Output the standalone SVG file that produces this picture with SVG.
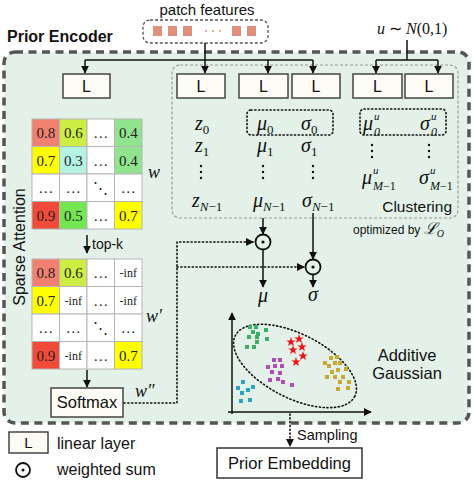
<svg xmlns="http://www.w3.org/2000/svg" width="474" height="480" viewBox="0 0 474 480">
<style>
.sans{font-family:"Liberation Sans",Arial,sans-serif;fill:#111}
.math{font-family:"Liberation Serif","Times New Roman",serif;font-style:italic;fill:#111}
.num{font-family:"Liberation Serif","Times New Roman",serif;font-size:15px;fill:#222;text-anchor:middle}
.inf{font-size:12px}
.lbox{fill:#fdfbf6;stroke:#444;stroke-width:1.5}
.cell{stroke:#b5b5b5;stroke-width:1}
.ln{stroke:#111;stroke-width:1.5;fill:none}
.dot{stroke:#111;stroke-width:1.6;fill:none;stroke-dasharray:1.2 2.6;stroke-linecap:round}
.g{fill:#3aaf6b}.c{fill:#2ba3c4}.m{fill:#b24bb8}.o{fill:#c9a832}.s{fill:#ee1515}
</style>
<defs>
<marker id="ar" viewBox="0 0 10 10" refX="9" refY="5" markerWidth="8" markerHeight="8" markerUnits="userSpaceOnUse" orient="auto"><path d="M0,0 L10,5 L0,10 z" fill="#111"/></marker>
<path id="star" d="M0,-5 L1.18,-1.62 L4.76,-1.55 L1.9,0.62 L2.94,4.05 L0,2 L-2.94,4.05 L-1.9,0.62 L-4.76,-1.55 L-1.18,-1.62 Z"/>
<rect id="sq" x="-2" y="-2" width="4" height="4"/>
</defs>

<!-- Title and outer encoder box -->
<text class="sans" x="7" y="42" font-size="16" font-weight="bold">Prior Encoder</text>
<rect id="encoder" x="4" y="52" width="465" height="371" rx="11" fill="#e3f1e8" stroke="#555" stroke-width="3.5" stroke-dasharray="8 5.5"/>

<!-- patch features -->
<g id="patch">
<text class="sans" x="207" y="15" font-size="15" text-anchor="middle">patch features</text>
<rect x="143" y="20" width="125" height="23" rx="7" fill="none" stroke="#555" stroke-width="1.3" stroke-dasharray="3 2"/>
<g fill="#e0907a">
<rect x="153" y="26" width="9" height="10"/><rect x="168" y="26" width="9" height="10"/><rect x="183" y="26" width="9" height="10"/>
<rect x="232" y="26" width="9" height="10"/><rect x="247" y="26" width="9" height="10"/>
<circle cx="206" cy="31" r="1"/><circle cx="213" cy="31" r="1"/><circle cx="220" cy="31" r="1"/>
</g>
</g>

<g id="noise">
<text class="math" x="377" y="34" font-size="16">u <tspan font-style="normal">∼</tspan> N<tspan font-style="normal">(0,1)</tspan></text>
</g>

<!-- clustering box -->
<g id="clustering">
<rect x="172" y="65" width="286" height="153" rx="8" fill="none" stroke="#999" stroke-width="1.2" stroke-dasharray="3 2"/>
<text class="sans" x="452" y="212" font-size="15.5" text-anchor="end">Clustering</text>
<rect x="247" y="110" width="86" height="25" rx="4" class="dot"/>
<rect x="360" y="109" width="86" height="26" rx="4" class="dot"/>
</g>
<text class="sans" x="353" y="234" font-size="12">optimized by <tspan class="math" font-size="16">ℒ</tspan><tspan class="math" font-size="10" dy="3">O</tspan></text>

<!-- L boxes -->
<g id="L0"><rect class="lbox" x="63" y="74" width="47" height="24"/><text class="sans" x="86.5" y="92" font-size="16" text-anchor="middle">L</text></g>
<g id="Lz"><rect class="lbox" x="177" y="74" width="48" height="24"/><text class="sans" x="201" y="92" font-size="16" text-anchor="middle">L</text></g>
<g id="Lmu"><rect class="lbox" x="239" y="74" width="49" height="24"/><text class="sans" x="263.5" y="92" font-size="16" text-anchor="middle">L</text></g>
<g id="Lsig"><rect class="lbox" x="292" y="74" width="48" height="24"/><text class="sans" x="316" y="92" font-size="16" text-anchor="middle">L</text></g>
<g id="Lmuu"><rect class="lbox" x="353" y="74" width="49" height="24"/><text class="sans" x="377.5" y="92" font-size="16" text-anchor="middle">L</text></g>
<g id="Lsigu"><rect class="lbox" x="405" y="74" width="48" height="24"/><text class="sans" x="429" y="92" font-size="16" text-anchor="middle">L</text></g>

<!-- variables -->
<g id="vars" font-size="20">
<text class="math" x="195" y="130">z<tspan font-size="13" dy="4" font-style="normal">0</tspan></text>
<text class="math" x="195" y="152">z<tspan font-size="13" dy="4" font-style="normal">1</tspan></text>
<text class="math" x="192" y="207">z<tspan font-size="13" dy="4">N</tspan><tspan font-size="13" font-style="normal">−1</tspan></text>
<text class="math" x="257" y="130">μ<tspan font-size="13" dy="4" font-style="normal">0</tspan></text>
<text class="math" x="257" y="152">μ<tspan font-size="13" dy="4" font-style="normal">1</tspan></text>
<text class="math" x="253" y="207">μ<tspan font-size="13" dy="4">N</tspan><tspan font-size="13" font-style="normal">−1</tspan></text>
<text class="math" x="301" y="130">σ<tspan font-size="13" dy="4" font-style="normal">0</tspan></text>
<text class="math" x="301" y="152">σ<tspan font-size="13" dy="4" font-style="normal">1</tspan></text>
<text class="math" x="302" y="207">σ<tspan font-size="13" dy="4">N</tspan><tspan font-size="13" font-style="normal">−1</tspan></text>
<text class="math" x="363" y="130">μ</text><text class="math" x="374" y="120" font-size="11">u</text><text class="math" x="374" y="136" font-size="12" font-style="normal">0</text>
<text class="math" x="420" y="130">σ</text><text class="math" x="431" y="120" font-size="11">u</text><text class="math" x="431" y="136" font-size="12" font-style="normal">0</text>
<text class="math" x="362" y="184">μ</text><text class="math" x="373" y="174" font-size="11">u</text><text class="math" x="373" y="190" font-size="12">M<tspan font-style="normal">−1</tspan></text>
<text class="math" x="419" y="184">σ</text><text class="math" x="430" y="174" font-size="11">u</text><text class="math" x="430" y="190" font-size="12">M<tspan font-style="normal">−1</tspan></text>
<g fill="#111">
<circle cx="201" cy="166" r="1.2"/><circle cx="201" cy="172" r="1.2"/><circle cx="201" cy="178" r="1.2"/>
<circle cx="263" cy="166" r="1.2"/><circle cx="263" cy="172" r="1.2"/><circle cx="263" cy="178" r="1.2"/>
<circle cx="313" cy="166" r="1.2"/><circle cx="313" cy="172" r="1.2"/><circle cx="313" cy="178" r="1.2"/>
<circle cx="372" cy="145" r="1.2"/><circle cx="372" cy="151" r="1.2"/><circle cx="372" cy="157" r="1.2"/>
<circle cx="429" cy="145" r="1.2"/><circle cx="429" cy="151" r="1.2"/><circle cx="429" cy="157" r="1.2"/>
</g>
</g>

<!-- attention matrices -->
<g id="matrixW">
<rect class="cell" x="32" y="119" width="27.5" height="27.5" fill="#f28070"/>
<rect class="cell" x="59.5" y="119" width="27.5" height="27.5" fill="#ccee44"/>
<rect class="cell" x="87" y="119" width="27.5" height="27.5" fill="#fff"/>
<rect class="cell" x="114.5" y="119" width="27.5" height="27.5" fill="#90e48e"/>
<rect class="cell" x="32" y="146.5" width="27.5" height="27.5" fill="#ffff00"/>
<rect class="cell" x="59.5" y="146.5" width="27.5" height="27.5" fill="#b4f2e2"/>
<rect class="cell" x="87" y="146.5" width="27.5" height="27.5" fill="#fff"/>
<rect class="cell" x="114.5" y="146.5" width="27.5" height="27.5" fill="#90e48e"/>
<rect class="cell" x="32" y="174" width="27.5" height="27.5" fill="#fff"/>
<rect class="cell" x="59.5" y="174" width="27.5" height="27.5" fill="#fff"/>
<rect class="cell" x="87" y="174" width="27.5" height="27.5" fill="#fff"/>
<rect class="cell" x="114.5" y="174" width="27.5" height="27.5" fill="#fff"/>
<rect class="cell" x="32" y="201.5" width="27.5" height="27.5" fill="#f24a38"/>
<rect class="cell" x="59.5" y="201.5" width="27.5" height="27.5" fill="#74e652"/>
<rect class="cell" x="87" y="201.5" width="27.5" height="27.5" fill="#fff"/>
<rect class="cell" x="114.5" y="201.5" width="27.5" height="27.5" fill="#ffff00"/>
<text class="num" x="45.75" y="138">0.8</text><text class="num" x="73.25" y="138">0.6</text><text class="num" x="100.75" y="138">…</text><text class="num" x="128.25" y="138">0.4</text>
<text class="num" x="45.75" y="165.5">0.7</text><text class="num" x="73.25" y="165.5">0.3</text><text class="num" x="100.75" y="165.5">…</text><text class="num" x="128.25" y="165.5">0.4</text>
<text class="num" x="45.75" y="193">…</text><text class="num" x="73.25" y="193">…</text><text class="num" x="100.75" y="193">⋱</text><text class="num" x="128.25" y="193">…</text>
<text class="num" x="45.75" y="220.5">0.9</text><text class="num" x="73.25" y="220.5">0.5</text><text class="num" x="100.75" y="220.5">…</text><text class="num" x="128.25" y="220.5">0.7</text>
<text class="math" x="148" y="178" font-size="18">w</text>
</g>
<g id="topk">
<text class="sans" x="92" y="249" font-size="14">top-k</text>
</g>
<g id="matrixW2">
<rect class="cell" x="32" y="259" width="27.5" height="27.5" fill="#f28070"/>
<rect class="cell" x="59.5" y="259" width="27.5" height="27.5" fill="#ccee44"/>
<rect class="cell" x="87" y="259" width="27.5" height="27.5" fill="#fff"/>
<rect class="cell" x="114.5" y="259" width="27.5" height="27.5" fill="#fff"/>
<rect class="cell" x="32" y="286.5" width="27.5" height="27.5" fill="#ffff00"/>
<rect class="cell" x="59.5" y="286.5" width="27.5" height="27.5" fill="#fff"/>
<rect class="cell" x="87" y="286.5" width="27.5" height="27.5" fill="#fff"/>
<rect class="cell" x="114.5" y="286.5" width="27.5" height="27.5" fill="#fff"/>
<rect class="cell" x="32" y="314" width="27.5" height="27.5" fill="#fff"/>
<rect class="cell" x="59.5" y="314" width="27.5" height="27.5" fill="#fff"/>
<rect class="cell" x="87" y="314" width="27.5" height="27.5" fill="#fff"/>
<rect class="cell" x="114.5" y="314" width="27.5" height="27.5" fill="#fff"/>
<rect class="cell" x="32" y="341.5" width="27.5" height="27.5" fill="#f24a38"/>
<rect class="cell" x="59.5" y="341.5" width="27.5" height="27.5" fill="#fff"/>
<rect class="cell" x="87" y="341.5" width="27.5" height="27.5" fill="#fff"/>
<rect class="cell" x="114.5" y="341.5" width="27.5" height="27.5" fill="#ffff00"/>
<text class="num" x="45.75" y="278">0.8</text><text class="num" x="73.25" y="278">0.6</text><text class="num" x="100.75" y="278">…</text><text class="num inf" x="128.25" y="277">-inf</text>
<text class="num" x="45.75" y="305.5">0.7</text><text class="num inf" x="73.25" y="304.5">-inf</text><text class="num" x="100.75" y="305.5">…</text><text class="num inf" x="128.25" y="304.5">-inf</text>
<text class="num" x="45.75" y="333">…</text><text class="num" x="73.25" y="333">…</text><text class="num" x="100.75" y="333">⋱</text><text class="num" x="128.25" y="333">…</text>
<text class="num" x="45.75" y="360.5">0.9</text><text class="num inf" x="73.25" y="359.5">-inf</text><text class="num" x="100.75" y="360.5">…</text><text class="num" x="128.25" y="360.5">0.7</text>
<text class="math" x="146" y="322" font-size="18">w′</text>
</g>
<text class="sans" transform="translate(25,247) rotate(-90)" font-size="16" text-anchor="middle">Sparse Attention</text>

<g id="softmax">
<rect class="lbox" x="51" y="388" width="72" height="29"/>
<text class="sans" x="87" y="408" font-size="16.5" text-anchor="middle">Softmax</text>
</g>
<text class="math" x="135" y="397" font-size="18">w″</text>

<!-- weighted sums -->
<g id="wsum_mu"><circle cx="263" cy="242" r="7.5" fill="none" stroke="#111" stroke-width="1.8"/><circle cx="263" cy="242" r="1.6" fill="#111"/></g>
<g id="wsum_sigma"><circle cx="313" cy="267" r="7.5" fill="none" stroke="#111" stroke-width="1.8"/><circle cx="313" cy="267" r="1.6" fill="#111"/></g>
<text class="math" x="263" y="302" font-size="20" text-anchor="middle">μ</text>
<text class="math" x="313" y="301" font-size="20" text-anchor="middle">σ</text>

<!-- scatter -->
<g id="gaussian">
<ellipse cx="295" cy="366" rx="67" ry="32" transform="rotate(27 295 366)" class="dot"/>
<g class="g">
<use href="#sq" x="250" y="327"/><use href="#sq" x="256" y="327"/><use href="#sq" x="266" y="330"/><use href="#sq" x="253" y="332"/><use href="#sq" x="258" y="334"/><use href="#sq" x="249" y="337"/><use href="#sq" x="257" y="337"/><use href="#sq" x="267" y="339"/><use href="#sq" x="257" y="342"/><use href="#sq" x="247" y="347"/><use href="#sq" x="254" y="347"/>
</g>
<g class="c">
<use href="#sq" x="243" y="382"/><use href="#sq" x="238" y="388"/><use href="#sq" x="248" y="390"/><use href="#sq" x="253" y="387"/><use href="#sq" x="242" y="393"/><use href="#sq" x="241" y="401"/><use href="#sq" x="250" y="400"/>
</g>
<g class="m">
<use href="#sq" x="274" y="360"/><use href="#sq" x="280" y="360"/><use href="#sq" x="268" y="367"/><use href="#sq" x="275" y="366"/><use href="#sq" x="282" y="366"/><use href="#sq" x="272" y="372"/><use href="#sq" x="280" y="373"/><use href="#sq" x="270" y="380"/><use href="#sq" x="278" y="379"/><use href="#sq" x="283" y="382"/><use href="#sq" x="292" y="385"/>
</g>
<g class="s">
<use href="#star" x="291" y="342"/><use href="#star" x="299" y="339"/><use href="#star" x="293" y="350"/><use href="#star" x="302" y="347"/><use href="#star" x="303" y="356"/><use href="#star" x="296" y="362"/>
</g>
<g class="o">
<use href="#sq" x="325" y="363"/><use href="#sq" x="331" y="358"/><use href="#sq" x="337" y="357"/><use href="#sq" x="329" y="366"/><use href="#sq" x="335" y="363"/><use href="#sq" x="340" y="363"/><use href="#sq" x="327" y="377"/><use href="#sq" x="332" y="372"/><use href="#sq" x="338" y="370"/><use href="#sq" x="346" y="369"/><use href="#sq" x="335" y="377"/><use href="#sq" x="343" y="377"/><use href="#sq" x="340" y="382"/><use href="#sq" x="349" y="382"/><use href="#sq" x="338" y="389"/><use href="#sq" x="348" y="388"/>
</g>
<text class="sans" x="407" y="361" font-size="16.5" text-anchor="middle">Additive</text>
<text class="sans" x="407" y="379" font-size="16.5" text-anchor="middle">Gaussian</text>
</g>

<g id="prior_embedding">
<rect x="217" y="448" width="145" height="30" fill="#fff" stroke="#333" stroke-width="1.5"/>
<text class="sans" x="289.5" y="469" font-size="16.5" text-anchor="middle">Prior Embedding</text>
</g>
<text class="sans" x="297" y="440" font-size="14.5">Sampling</text>

<!-- legend -->
<g id="legend">
<rect class="lbox" x="9" y="432" width="39" height="21"/>
<text class="sans" x="28.5" y="448" font-size="15" text-anchor="middle">L</text>
<text class="sans" x="57" y="449" font-size="16">linear layer</text>
<circle cx="23" cy="470" r="7" fill="none" stroke="#111" stroke-width="1.8"/><circle cx="23" cy="470" r="1.5" fill="#111"/>
<text class="sans" x="57" y="475" font-size="16">weighted sum</text>
</g>

<!-- connectors -->
<g id="connectors">
<path class="ln" d="M205,43 V60 M85,60 H313 M407,40 V60 M376,60 H438"/>
<path class="ln" d="M85,60 V73" marker-end="url(#ar)"/>
<path class="ln" d="M205,60 V73" marker-end="url(#ar)"/>
<path class="ln" d="M268,60 V73" marker-end="url(#ar)"/>
<path class="ln" d="M313,60 V73" marker-end="url(#ar)"/>
<path class="ln" d="M376,60 V73" marker-end="url(#ar)"/>
<path class="ln" d="M438,60 V73" marker-end="url(#ar)"/>
<path class="ln" d="M87,235 V253" marker-end="url(#ar)"/>
<path class="ln" d="M87,370 V387" marker-end="url(#ar)"/>
<path class="ln" d="M263,218 V234" marker-end="url(#ar)"/>
<path class="ln" d="M313,213 V259" marker-end="url(#ar)"/>
<path class="ln" d="M263,250 V287" marker-end="url(#ar)"/>
<path class="ln" d="M313,275 V287" marker-end="url(#ar)"/>
<path class="dot" d="M124,403 H177 V242 H254"/>
<path class="dot" d="M177,267 H304"/>
<path d="M254,242 L246,238 L246,246 z M305,267 L297,263 L297,271 z" fill="#111"/>
<path class="ln" d="M232,414 V313" marker-end="url(#ar)"/>
<path class="ln" d="M228,412 H371" marker-end="url(#ar)"/>
<path class="dot" d="M290,414 V440"/>
<path d="M290,447 L286,439 L294,439 z" fill="#111"/>
</g>
</svg>
